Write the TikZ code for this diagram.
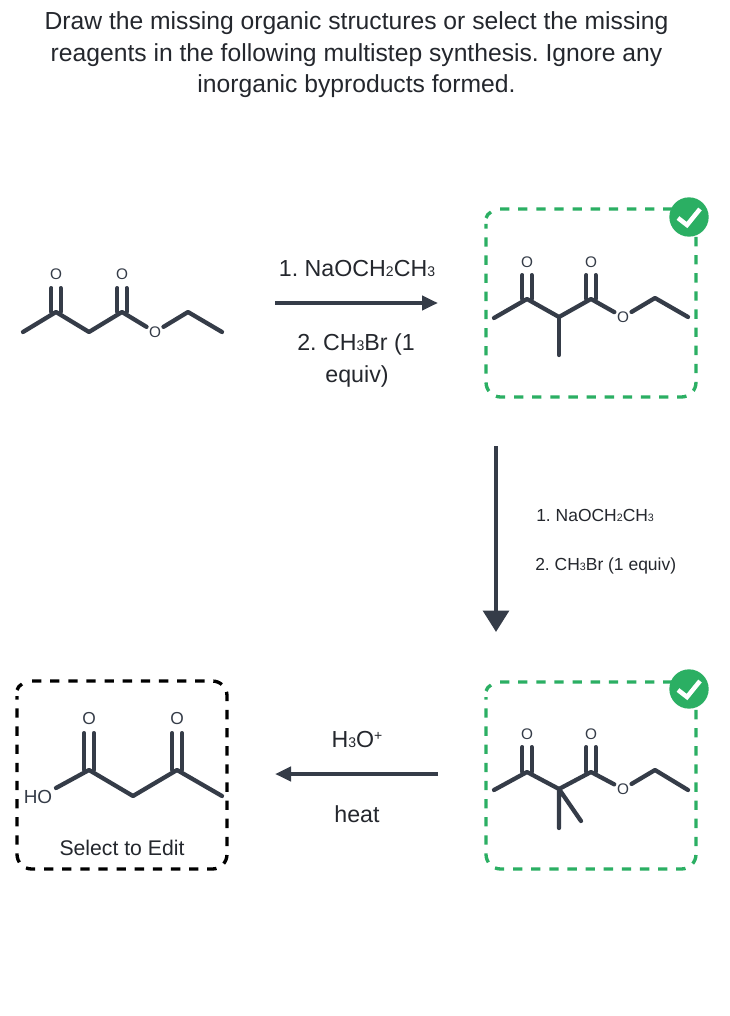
\documentclass[tikz,border=0pt]{standalone}
\usepackage{fontspec}
\setmainfont{Liberation Sans}
\usetikzlibrary{arrows.meta,calc}
\definecolor{ink}{HTML}{353C48}
\definecolor{txt}{HTML}{24272D}
\definecolor{okgreen}{HTML}{2BAF63}
\newcommand{\fs}[1]{\fontsize{#1}{#1}\selectfont}
\newcommand{\subd}[1]{{\fontsize{10.5}{10.5}\selectfont #1}}
\newcommand{\subs}[1]{{\fontsize{8}{8}\selectfont #1}}
\tikzset{
  x=0.75pt,y=-0.75pt,
  bond/.style={draw=ink,line width=3.2pt,line cap=round,line join=round},
  dbl/.style={draw=ink,line width=3pt,line cap=round},
  atom/.style={shape=circle,minimum size=14.5pt,inner sep=0pt,text=ink,font=\fs{11.5}},
  big/.style={anchor=base,text=txt,font=\fs{17.4},inner sep=0pt},
  small/.style={anchor=base west,text=txt,font=\fs{13.1},inner sep=0pt},
  ttl/.style={anchor=base,text=txt,font=\fs{18.5},inner sep=0pt},
  okbox/.style={draw=okgreen,line width=2.5pt,dash pattern=on 7pt off 6.6pt,rounded corners=11pt},
  editbox/.style={draw=black,line width=2.5pt,dash pattern=on 7pt off 6.6pt,rounded corners=11pt},
  okcorner/.style={draw=okgreen,line width=2.5pt},
  editcorner/.style={draw=black,line width=2.5pt},
  okdisc/.style={shape=circle,fill=okgreen,minimum size=29.5pt,inner sep=0pt},
  tick/.style={draw=white,line width=3.4pt},
  rarrow/.style={draw=ink,line width=3.6pt,-{Triangle[length=12pt,width=10.5pt]}},
  darrow/.style={draw=ink,line width=3.5pt,-{Triangle[length=16pt,width=19pt]}},
}
\begin{document}
\frenchspacing
\begin{tikzpicture}
\useasboundingbox (0,0) rectangle (730,1016);
\fill[white] (0,0) rectangle (730,1016);

\node[ttl] (title1) at (356.5,30) {Draw the missing organic structures or select the missing};
\node[ttl] (title2) at (356.5,61.5) {reagents in the following multistep synthesis. Ignore any};
\node[ttl] (title3) at (356.5,93) {inorganic byproducts formed.};

% Molecule 1
\coordinate (a1) at (23,332); \coordinate (b1) at (56,312); \coordinate (c1) at (89,332);
\coordinate (d1) at (122,312); \coordinate (f1) at (188,312); \coordinate (g1) at (222,332);
\coordinate (t1) at (56,288); \coordinate (u1) at (122,288);
\node[atom] (o1) at (56,274) {O};
\node[atom] (p1) at (122,274) {O};
\node[atom] (e1) at (155,332) {O};
\draw[bond] (a1)--(b1)--(c1)--(d1)--(e1)--(f1)--(g1);
\draw[dbl] ([xshift=-3.4pt]b1)--([xshift=-3.4pt]t1) ([xshift=3.4pt]b1)--([xshift=3.4pt]t1);
\draw[dbl] ([xshift=-3.4pt]d1)--([xshift=-3.4pt]u1) ([xshift=3.4pt]d1)--([xshift=3.4pt]u1);

% Molecule 2
\draw[okbox] (500,209)--(696,209)--(696,397)--(486,397)--(486,224);
\draw[okcorner] (486,218) .. controls (487,215) and (488,214) .. (491,212);
\coordinate (a2) at (494,318); \coordinate (b2) at (527,299); \coordinate (c2) at (559,317);
\coordinate (d2) at (591,299); \coordinate (f2) at (655,298); \coordinate (g2) at (688,317);
\coordinate (m2) at (559,355);
\coordinate (t2) at (527,275); \coordinate (u2) at (591,275);
\node[atom] (o2) at (527,262) {O};
\node[atom] (p2) at (591,262) {O};
\node[atom] (e2) at (623,317) {O};
\draw[bond] (a2)--(b2)--(c2)--(d2)--(e2)--(f2)--(g2);
\draw[bond] (c2)--(m2);
\draw[dbl] ([xshift=-3.4pt]b2)--([xshift=-3.4pt]t2) ([xshift=3.4pt]b2)--([xshift=3.4pt]t2);
\draw[dbl] ([xshift=-3.4pt]d2)--([xshift=-3.4pt]u2) ([xshift=3.4pt]d2)--([xshift=3.4pt]u2);
\node[okdisc] (ok2) at (689,217) {};
\draw[tick] ($(ok2)+(-11,1)$)--($(ok2)+(-2,8)$)--($(ok2)+(11,-8)$);

% Molecule 3
\draw[okbox] (500,682)--(696,682)--(696,869)--(486,869)--(486,697);
\draw[okcorner] (486,691) .. controls (487,688) and (488,687) .. (491,685);
\coordinate (a3) at (494,790); \coordinate (b3) at (527,772); \coordinate (c3) at (559,789);
\coordinate (d3) at (591,772); \coordinate (f3) at (655,770); \coordinate (g3) at (688,790);
\coordinate (m3) at (559,828); \coordinate (n3) at (581,821);
\coordinate (t3) at (527,747); \coordinate (u3) at (591,747);
\node[atom] (o3) at (527,734) {O};
\node[atom] (p3) at (591,734) {O};
\node[atom] (e3) at (623,789) {O};
\draw[bond] (a3)--(b3)--(c3)--(d3)--(e3)--(f3)--(g3);
\draw[bond] (c3)--(m3) (c3)--(n3);
\draw[dbl] ([xshift=-3.4pt]b3)--([xshift=-3.4pt]t3) ([xshift=3.4pt]b3)--([xshift=3.4pt]t3);
\draw[dbl] ([xshift=-3.4pt]d3)--([xshift=-3.4pt]u3) ([xshift=3.4pt]d3)--([xshift=3.4pt]u3);
\node[okdisc] (ok3) at (689,689) {};
\draw[tick] ($(ok3)+(-11,1)$)--($(ok3)+(-2,8)$)--($(ok3)+(11,-8)$);

% Molecule 4
\draw[editbox] (32,681)--(227,681)--(227,869)--(17,869)--(17,696);
\draw[editcorner] (17,690) .. controls (18,687) and (19,686) .. (22,684);
\coordinate (h4) at (56,788); \coordinate (b4) at (89,770); \coordinate (c4) at (133,796);
\coordinate (d4) at (177,770); \coordinate (g4) at (222,796);
\coordinate (t4) at (89,733); \coordinate (u4) at (177,733);
\node[atom,font=\fs{13}] (o4) at (89,719) {O};
\node[atom,font=\fs{13}] (p4) at (177,719) {O};
\node[anchor=base,text=ink,font=\fs{14.2},inner sep=0pt] (ho4) at (38,803) {HO};
\draw[bond] (h4)--(b4)--(c4)--(d4)--(g4);
\draw[dbl] ([xshift=-3.6pt]b4)--([xshift=-3.6pt]t4) ([xshift=3.6pt]b4)--([xshift=3.6pt]t4);
\draw[dbl] ([xshift=-3.6pt]d4)--([xshift=-3.6pt]u4) ([xshift=3.6pt]d4)--([xshift=3.6pt]u4);
\node[anchor=base,text=txt,font=\fs{15.9},inner sep=0pt] (sel) at (122,855) {Select to Edit};

% Arrows
\coordinate (r1a) at (275,303); \coordinate (r1b) at (438,303);
\draw[rarrow] (r1a)--(r1b);
\coordinate (r2a) at (496,446); \coordinate (r2b) at (496,632);
\draw[darrow] (r2a)--(r2b);
\coordinate (r3a) at (438,774); \coordinate (r3b) at (275,774);
\draw[rarrow] (r3a)--(r3b);

% Reagents
\node[big] (l1) at (357,276) {1. NaOCH\subd{2}CH\subd{3}};
\node[big] (l2) at (356,350) {2. CH\subd{3}Br (1};
\node[big] (l3) at (357,382) {equiv)};
\node[small] (l4) at (536,521) {1. NaOCH\subs{2}CH\subs{3}};
\node[small] (l5) at (535,570) {2. CH\subs{3}Br (1 equiv)};
\node[big] (l6) at (357,747) {H\subd{3}O\raisebox{5pt}{\subd{+}}};
\node[big] (l7) at (357,822) {heat};
\end{tikzpicture}
\end{document}
